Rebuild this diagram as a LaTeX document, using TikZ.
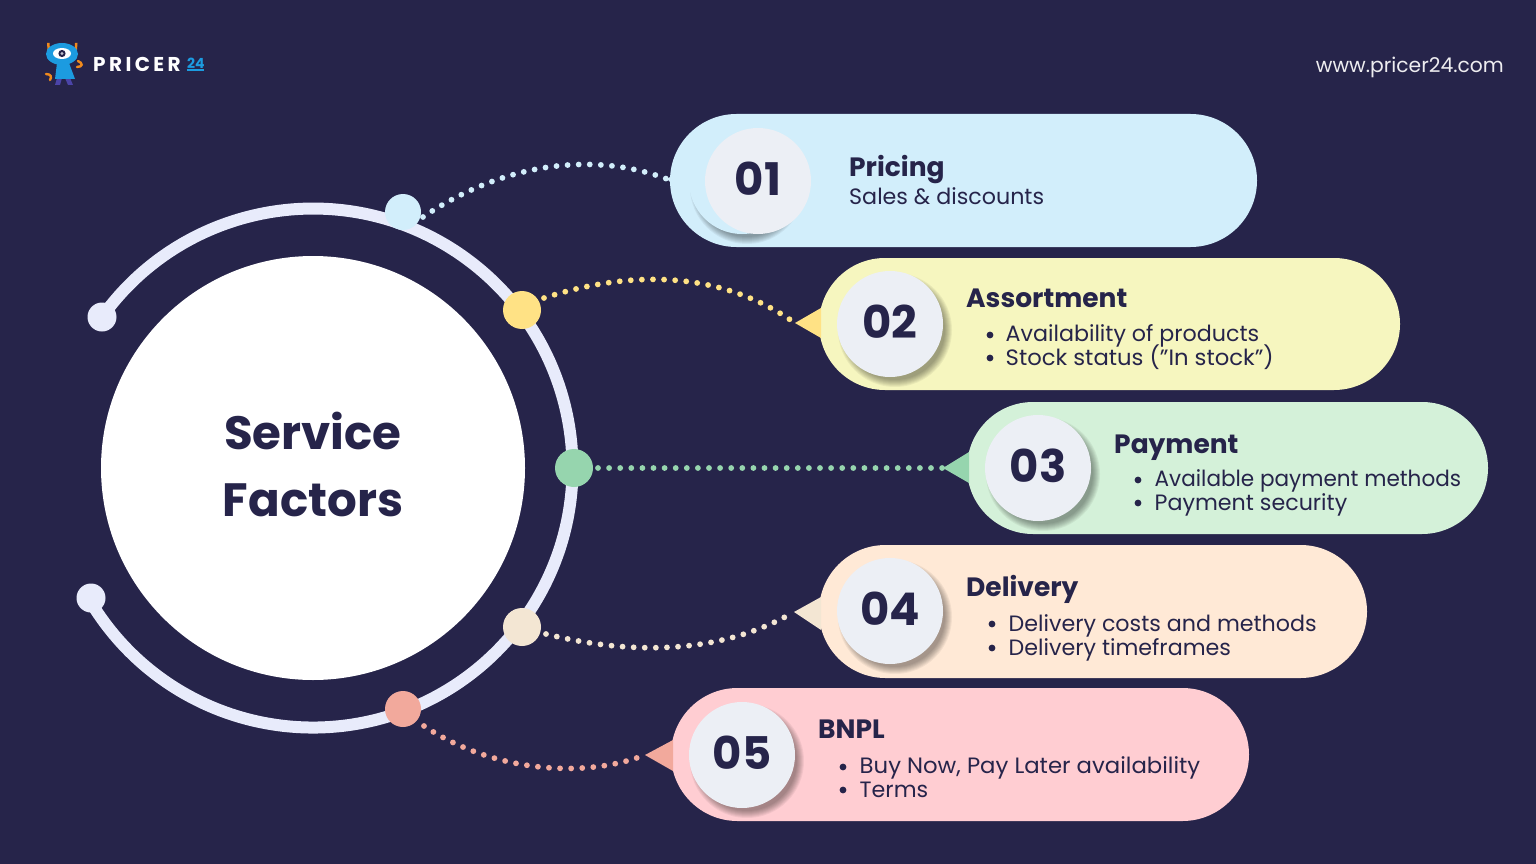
\documentclass[tikz,border=0pt]{standalone}
\usepackage{fontspec}
\usepackage{graphicx}
\setmainfont{Poppins}
\usetikzlibrary{calc,shapes.misc}
\lineskiplimit=-100pt
\definecolor{bg}{HTML}{26244A}
\definecolor{ink}{HTML}{26244A}
\definecolor{ring}{HTML}{E8EBFB}
\definecolor{disc}{HTML}{ECEFF5}
\definecolor{pa}{HTML}{D2EEFB}\definecolor{pb}{HTML}{F6F6BF}\definecolor{pc}{HTML}{D4F1D9}\definecolor{pd}{HTML}{FFE9D6}\definecolor{pe}{HTML}{FFCDD2}
\definecolor{da}{HTML}{D2EEFB}\definecolor{db}{HTML}{FFE285}\definecolor{dc}{HTML}{96D5AE}\definecolor{dd}{HTML}{F3E6D3}\definecolor{de}{HTML}{F2A99C}
\definecolor{logob}{HTML}{1C9BE0}\definecolor{logoo}{HTML}{F08A1D}\definecolor{logop}{HTML}{4B44A8}
\newcommand\numtxt[1]{\raisebox{4.5pt}{#1}}
\newcommand\sx[2]{\scalebox{#1}[1]{#2}}
\newcommand\softshadow[3]{% x y radius
  \foreach \k in {0,1,...,7}{\fill[black,opacity=0.05] (#1+5,#2+6) circle ({#3+4-\k});}}
\tikzset{
  x=1pt,y=-1pt,
  pill/.style={rounded rectangle,inner sep=0pt,draw=none},
  numdisc/.style={circle,fill=disc,minimum size=106pt,inner sep=0pt,text=ink,font=\fontsize{45}{45}\selectfont\bfseries},
  spot/.style={circle,inner sep=0pt,minimum size=38pt},
  endspot/.style={circle,fill=ring,inner sep=0pt,minimum size=29pt},
  dotted link/.style={line width=5.8pt,line cap=round,dash pattern=on 0pt off 11.1pt},
  head/.style={anchor=base west,inner sep=0pt,text=ink,font=\fontsize{26.5}{27}\selectfont\fontseries{sb}\selectfont},
  body/.style={anchor=north west,inner sep=0pt,align=left,text=ink,font=\fontsize{22.2}{24}\selectfont},
}
\begin{document}
\begin{tikzpicture}
\useasboundingbox (0,0) rectangle (1536,864);
\fill[bg] (0,0) rectangle (1536,864);
% logo
\fill[logoo] (47,43) -- (49.5,43) -- (50,50) -- (47.5,50) -- cycle;
\fill[logoo] (75,43) -- (77.5,43) -- (77,50) -- (74.5,50) -- cycle;
\fill[logop] (57,78) -- (62,78) -- (60,85) -- (55,85) -- cycle;
\fill[logop] (65,78) -- (70,78) -- (73,85) -- (68,85) -- cycle;
\fill[logob] (57,63) -- (69,63) -- (75,79) -- (55,79) -- cycle;
\draw[logoo,line width=2.4pt,line cap=round] (78,61) .. controls (83,63) and (83,67) .. (77,67);
\draw[logoo,line width=2.4pt,line cap=round] (46,74) .. controls (51,74) and (52,77) .. (50,80);
\fill[logob] (62,54) ellipse [x radius=16,y radius=11];
\fill[white] (62,53.5) ellipse [x radius=9,y radius=5.5];
\fill[ink] (62,53.5) circle (3.6);
\fill[white!70!ink] (62,53.5) circle (1.6);
\node[anchor=base west,inner sep=0pt,text=white,font=\fontsize{20}{20}\selectfont\fontseries{sb}\selectfont\addfontfeature{LetterSpace=17}] (brand) at (93,72) {PRICER};
\node[anchor=base west,inner sep=0pt,text=logob,font=\fontsize{14}{14}\selectfont\bfseries] (brandn) at (187,68.5) {24};
\fill[logob] (187,69.5) rectangle (204,71.5);
\node[anchor=base east,inner sep=0pt,text=white!92!ink,font=\fontsize{20.3}{21}\selectfont] (url) at (1504,72.5) {www.pricer24.com};
% ring and core
\draw[ring,line width=12pt] (102,317) arc[start angle=-144.4,end angle=149.6,radius=259.5];
\node[circle,fill=white,minimum size=424pt,inner sep=0pt] (core) at (313,468) {};
\node[align=center,inner sep=0pt,text=ink,font=\fontsize{46.7}{67}\selectfont\bfseries] (coret) at (313,464.5) {Service\\Factors};
\node[endspot] (e1) at (102,317) {};
\node[endspot] (e2) at (91,598) {};
% pills
\node[pill,fill=pa,minimum width=587pt,minimum height=133pt] (p1) at (963.5,180.5) {};
\node[pill,fill=pb,minimum width=581pt,minimum height=132pt] (p2) at (1109.5,324) {};
\node[pill,fill=pc,minimum width=521pt,minimum height=132pt] (p3) at (1227.5,468) {};
\node[pill,fill=pd,minimum width=548pt,minimum height=133pt] (p4) at (1093,611.5) {};
\node[pill,fill=pe,minimum width=578pt,minimum height=133pt] (p5) at (960,754.5) {};
% spots
\node[spot,fill=da,minimum size=36pt] (d1) at (403,212) {};
\node[spot,fill=db] (d2) at (522,310) {};
\node[spot,fill=dc] (d3) at (574,468) {};
\node[spot,fill=dd] (d4) at (522,627) {};
\node[spot,fill=de,minimum size=36pt] (d5) at (403,709) {};
% links
\coordinate (t1) at (667,179);
\coordinate (t2) at (795,323);
\coordinate (t3) at (943,468);
\coordinate (t4) at (794,612);
\coordinate (t5) at (645,755);
\draw[da,dotted link] (d1) ++(20,5) .. controls (500,165) and (590,150) .. (t1);
\draw[db,dotted link] (d2) ++(22,-12) .. controls (630,270) and (720,270) .. (t2);
\draw[dc,dotted link] (d3) ++(24,0) -- (t3);
\draw[dd,dotted link] (d4) ++(24,7) .. controls (630,655) and (720,655) .. (t4);
\draw[de,dotted link] (d5) ++(21,17) .. controls (490,770) and (580,780) .. (t5);
% pointers
\fill[da] (t1) -- (673,175) -- (673,185) -- cycle;
\fill[db] (t2) -- (821,308) -- (821,338) -- cycle;
\fill[dc] (t3) -- (969,452) -- (969,483) -- cycle;
\fill[dd] (t4) -- (821,597) -- (821,630) -- cycle;
\fill[de] (t5) -- (673,740) -- (673,771) -- cycle;
% discs
\softshadow{742}{181}{53}
\fill[pa] (742,181) circle (53);
\softshadow{890}{324}{53}
\softshadow{1038}{468}{53}
\softshadow{890}{611}{53}
\softshadow{742}{755}{53}
\node[numdisc] (c1) at (758,181) {\numtxt{01}};
\node[numdisc] (c2) at (890,324) {\numtxt{02}};
\node[numdisc] (c3) at (1038,468) {\numtxt{03}};
\node[numdisc] (c4) at (890,611) {\numtxt{04}};
\node[numdisc] (c5) at (742,755) {\numtxt{05}};
% bullets
\foreach \bx/\by in {990/335,990/358,1138/480,1138/503,992/624,992/648,843/767,843/790}
  \fill[ink] (\bx,\by) circle (3.4);
% texts
\node[head] (h1) at (849,176) {Pricing};
\node[body] (b1) at (849,187) {Sales \& discounts};
\node[head] (h2) at (966,307) {Assortment};
\node[body] (b2) at (1005.5,324) {Availability of products\\\sx{1.023}{Stock status ("In stock")}};
\node[head] (h3) at (1114,453) {Payment};
\node[body] (b3) at (1154.5,469) {\sx{0.971}{Available payment methods}\\Payment security};
\node[head] (h4) at (966,596) {Delivery};
\node[body] (b4) at (1008.5,614) {Delivery costs and methods\\Delivery timeframes};
\node[head] (h5) at (818,738) {BNPL};
\node[body] (b5) at (859.5,756) {\sx{1.026}{Buy Now, Pay Later availability}\\Terms};
\end{tikzpicture}
\end{document}
